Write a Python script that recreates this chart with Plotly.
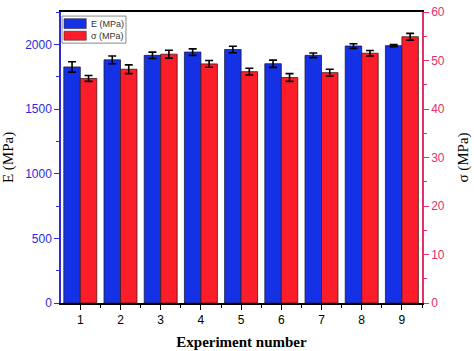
import plotly.graph_objects as go

experiments = [1, 2, 3, 4, 5, 6, 7, 8, 9]
E_mpa = [1825, 1880, 1915, 1940, 1960, 1850, 1915, 1987, 1990]
E_err = [40, 30, 25, 25, 25, 28, 18, 18, 8]
sigma_mpa = [46.3, 48.2, 51.3, 49.3, 47.7, 46.5, 47.5, 51.5, 54.9]
sigma_err = [0.6, 0.9, 0.8, 0.7, 0.7, 0.8, 0.7, 0.55, 0.7]
series_names = ["E (MPa)", "σ (MPa)"]

BLUE = "#1531e6"
RED = "#fb1d2a"
BLUE_AX = "#2b2bdc"
PINK_AX = "#e2306e"

fig = go.Figure()
fig.add_trace(go.Bar(
    x=experiments, y=E_mpa, name=series_names[0],
    width=0.41, offset=-0.41,
    marker=dict(color=BLUE, line=dict(color="#1a1a40", width=0.8)),
    error_y=dict(type="data", array=E_err, color="black", thickness=1.6, width=4),
    yaxis="y", showlegend=False,
))
fig.add_trace(go.Bar(
    x=experiments, y=sigma_mpa, name=series_names[1],
    width=0.41, offset=0,
    marker=dict(color=RED, line=dict(color="#401a1a", width=0.8)),
    error_y=dict(type="data", array=sigma_err, color="black", thickness=1.6, width=4),
    yaxis="y2", showlegend=False,
))

# compact legend box (paper coordinates)
fig.add_shape(type="rect", xref="paper", yref="paper", x0=0.003, x1=0.18, y0=0.893, y1=0.986,
              line=dict(color="#8a8a8a", width=1), fillcolor="white", layer="above")
legend_rows = [(BLUE, 0.977, 0.943, 0.958), (RED, 0.934, 0.903, 0.916)]
for (col, ytop, ybot, ytext), name in zip(legend_rows, series_names):
    fig.add_shape(type="rect", xref="paper", yref="paper", x0=0.0083, x1=0.070, y0=ybot, y1=ytop,
                  line=dict(color="#333333", width=0.6), fillcolor=col, layer="above")
    fig.add_annotation(x=0.0776, y=ytext, xref="paper", yref="paper", text=name,
                       showarrow=False, xanchor="left", yanchor="middle",
                       font=dict(family="Liberation Sans, Arial", size=9, color="#333333"))

tickfont = dict(family="Liberation Sans, Arial", size=12)
titlefont = dict(family="Liberation Serif, Times New Roman", size=15, color="black")

fig.update_layout(
    width=474, height=351,
    margin=dict(l=61, r=52, t=12, b=48),
    plot_bgcolor="white", paper_bgcolor="white",
    barmode="overlay",
    showlegend=False,
    xaxis=dict(
        range=[0.52, 9.5], tickmode="array", tickvals=experiments,
        ticktext=[str(v) for v in experiments],
        showline=True, linecolor="black", linewidth=1.5, mirror=True,
        ticks="outside", ticklen=5, tickwidth=1.3, tickcolor="black",
        minor=dict(ticks="outside", ticklen=3, tickwidth=1, tickcolor="black",
                   tickvals=[0.5 + i for i in range(10)]),
        showgrid=False, zeroline=False, automargin=False,
        tickfont=dict(tickfont, color="black"),
        title=dict(text="<b>Experiment number</b>", font=titlefont, standoff=10),
    ),
    yaxis=dict(
        range=[0, 2250], tickvals=[0, 500, 1000, 1500, 2000],
        showline=True, linecolor=BLUE_AX, linewidth=1.5,
        ticks="outside", ticklen=5, tickwidth=1.3, tickcolor=BLUE_AX,
        minor=dict(ticks="outside", ticklen=3, tickwidth=1, tickcolor=BLUE_AX,
                   tickvals=[250, 750, 1250, 1750, 2250]),
        showgrid=False, zeroline=False, automargin=False,
        tickfont=dict(tickfont, color=BLUE_AX),
        title=dict(text="E (MPa)", font=titlefont, standoff=10),
    ),
    yaxis2=dict(
        range=[0, 60], tickvals=[0, 10, 20, 30, 40, 50, 60],
        overlaying="y", side="right",
        showline=True, linecolor=PINK_AX, linewidth=1.5,
        ticks="outside", ticklen=5, tickwidth=1.3, tickcolor=PINK_AX,
        minor=dict(ticks="outside", ticklen=3, tickwidth=1, tickcolor=PINK_AX,
                   tickvals=[5, 15, 25, 35, 45, 55]),
        showgrid=False, zeroline=False, automargin=False,
        tickfont=dict(tickfont, color=PINK_AX),
        title=dict(text="σ (MPa)", font=titlefont, standoff=14),
    ),
)

fig.write_html("out.html")
